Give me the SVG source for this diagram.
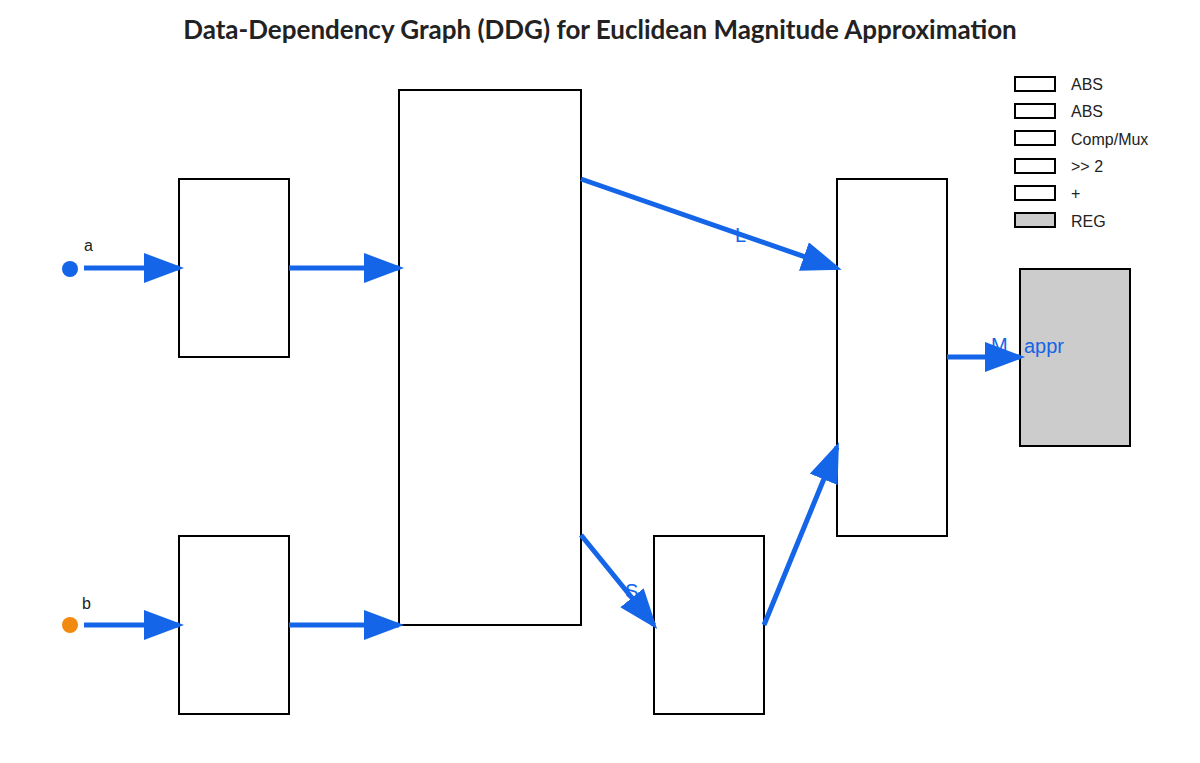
<svg xmlns="http://www.w3.org/2000/svg" width="1200" height="763" viewBox="0 0 1200 763">
<style>
.n{fill:#fff;stroke:#000;stroke-width:2}
.r{fill:#cccccc;stroke:#000;stroke-width:2}
.e{stroke:#1565e8;stroke-width:5;fill:none;marker-end:url(#ah)}
.t{font-family:"Liberation Sans",Arial,sans-serif;font-size:16px;fill:#222}
.lb{font-family:"Liberation Sans",Arial,sans-serif;font-size:20px;fill:#1565e8}
</style>
<defs><marker id="ah" markerWidth="8" markerHeight="6" refX="7" refY="3" orient="auto" markerUnits="strokeWidth"><path d="M0,0L8,3L0,6z" fill="#1565e8"/></marker></defs>
<rect width="1200" height="763" fill="#fff"/>
<text x="600" y="39" text-anchor="middle" font-family="Lato,'Liberation Sans',sans-serif" font-weight="bold" font-size="26" fill="#222">Data-Dependency Graph (DDG) for Euclidean Magnitude Approximation</text>
<g id="node-abs1"><rect class="n" x="179" y="179" width="110" height="178"/></g>
<g id="node-abs2"><rect class="n" x="179" y="536" width="110" height="178"/></g>
<g id="node-cmp"><rect class="n" x="399" y="90" width="182" height="535"/></g>
<g id="node-shift"><rect class="n" x="654" y="536" width="110" height="178"/></g>
<g id="node-add"><rect class="n" x="837" y="179" width="110" height="357"/></g>
<g id="node-reg"><rect class="r" x="1020" y="269" width="110" height="177"/></g>
<g id="input-a"><circle cx="70" cy="269" r="8" fill="#1565e8"/><text class="t" x="84" y="251">a</text></g>
<g id="input-b"><circle cx="70" cy="625" r="8" fill="#f28a10"/><text class="t" x="82" y="609">b</text></g>
<g id="connectors">
<line class="e" x1="84" y1="268" x2="179" y2="268"/>
<line class="e" x1="84" y1="625" x2="179" y2="625"/>
<line class="e" x1="289" y1="268" x2="399" y2="268"/>
<line class="e" x1="289" y1="625" x2="399" y2="625"/>
<line class="e" x1="581" y1="179" x2="837" y2="268"/>
<line class="e" x1="581" y1="535" x2="654" y2="625"/>
<line class="e" x1="764" y1="625" x2="837" y2="447"/>
<line class="e" x1="947" y1="357" x2="1020" y2="357"/>
<text class="lb" x="735" y="242">L</text>
<text class="lb" x="625" y="598">S</text>
<text class="lb" x="991" y="352">M</text>
<text class="lb" x="1024" y="353">appr</text>
</g>
<g id="legend">
<rect class="n" x="1015" y="77" width="40" height="14"/><text class="t" x="1071" y="90">ABS</text>
<rect class="n" x="1015" y="104" width="40" height="14"/><text class="t" x="1071" y="117">ABS</text>
<rect class="n" x="1015" y="131" width="40" height="14"/><text class="t" x="1071" y="145">Comp/Mux</text>
<rect class="n" x="1015" y="159" width="40" height="14"/><text class="t" x="1071" y="172">&gt;&gt; 2</text>
<rect class="n" x="1015" y="186" width="40" height="14"/><text class="t" x="1071" y="199">+</text>
<rect class="r" x="1015" y="213" width="40" height="14"/><text class="t" x="1071" y="227">REG</text>
</g>
</svg>
